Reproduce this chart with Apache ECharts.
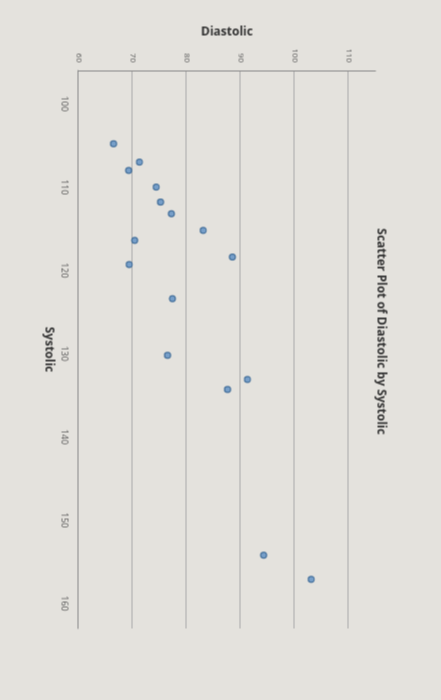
<!DOCTYPE html>
<html><head><meta charset="utf-8">
<script src="https://cdn.jsdelivr.net/npm/echarts@6/dist/echarts.min.js"></script>
<style>
html,body{margin:0;padding:0;width:441px;height:700px;overflow:hidden;background:#e4e2dd;}
#c{position:absolute;width:700px;height:441px;left:-129.5px;top:129.5px;transform:rotate(90deg);}
</style></head><body>
<div id="c"></div>
<script>
const systolic  = [104.8,108,107,110,111.8,113.2,115.2,116.4,118.4,119.3,123.4,130.2,133.1,134.3,154.2,157.1];
const diastolic = [66.5,69.3,71.3,74.4,75.2,77.2,83.1,70.4,88.5,69.4,77.4,76.5,91.3,87.6,94.3,103.1];
const points = systolic.map((s,i)=>[s,diastolic[i]]);
const chart = echarts.init(document.getElementById('c'));
chart.setOption({
  backgroundColor:'#e4e2dd',
  title:{text:'Scatter Plot of Diastolic by Systolic',left:326,textAlign:'center',top:50,
    textStyle:{fontFamily:'Open Sans',fontSize:12,fontWeight:'bold',color:'#333'}},
  grid:{left:70,right:72,top:66,bottom:78},
  xAxis:{type:'value',min:96,max:163,interval:1,name:'Systolic',nameLocation:'middle',nameGap:24,
    nameTextStyle:{fontFamily:'Open Sans',fontSize:12,fontWeight:'bold',color:'#333'},
    axisLine:{show:true,lineStyle:{color:'#888'}},axisTick:{show:false},splitLine:{show:false},
    axisLabel:{interval:(i,v)=>Number(v)%10===0,formatter:v=>(v%10===0?v:''),fontFamily:'Open Sans',fontSize:9,color:'#555',margin:10}},
  yAxis:{type:'value',min:60,max:115,interval:10,name:'Diastolic',nameLocation:'middle',nameGap:29,nameRotate:90,
    nameTextStyle:{fontFamily:'Open Sans',fontSize:12,fontWeight:'bold',color:'#333'},
    axisLine:{show:true,lineStyle:{color:'#888'}},axisTick:{show:false},
    splitLine:{show:true,showMaxLine:false,lineStyle:{color:'#aaa'}},
    axisLabel:{showMaxLabel:false,fontFamily:'Open Sans',fontSize:8,color:'#555',margin:8}},
  series:[{type:'scatter',data:points,symbolSize:6,
    itemStyle:{color:'#5b8fc4',borderColor:'#2f5f8f',borderWidth:1.2}}]
});
</script></body></html>
